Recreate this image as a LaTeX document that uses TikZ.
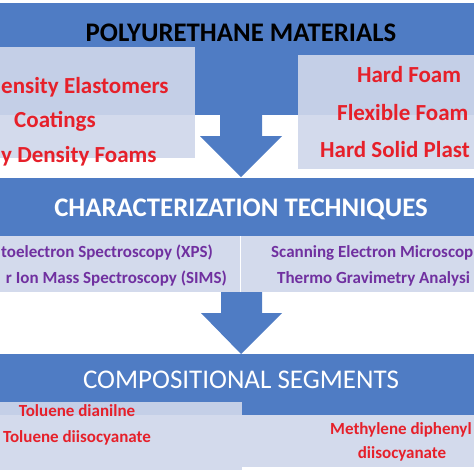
\documentclass[tikz,border=0pt]{standalone}
\usepackage{fontspec}
\setmainfont{Carlito}
\definecolor{bandblue}{HTML}{4F7CC4}
\definecolor{paleblue}{HTML}{CFD7EA}
\definecolor{itemred}{HTML}{E6202A}
\definecolor{itempurple}{HTML}{7030A0}
\tikzset{
  band/.style={fill=bandblue,draw=none},
  panel/.style={fill=paleblue,fill opacity=0.92,draw=none},
  heading/.style={inner sep=0pt,font=\bfseries\fontsize{26.8}{31}\selectfont},
  item/.style={inner sep=0pt,text=itemred,font=\bfseries\fontsize{23}{27}\selectfont},
  method/.style={inner sep=0pt,text=itempurple,font=\bfseries\fontsize{17}{20}\selectfont},
  segment/.style={inner sep=0pt,text=itemred,font=\bfseries\fontsize{17}{20}\selectfont}
}

\begin{document}
\begin{tikzpicture}[x=1pt,y=-1pt]
    \useasboundingbox (0,0) rectangle (474,474);
    %
    % -- First band: the materials
    \fill[band] (0,3) rectangle (474,115);
    \fill[band] (220,110) -- (262,110) -- (262,136) -- (282,136)
                -- (241,177) -- (200,136) -- (220,136) -- cycle;
    \fill[panel] (0,47) rectangle (195,158);
    \fill[panel] (298,55) rectangle (474,169);
    \node[heading] (materials) at (241,33) {POLYURETHANE MATERIALS};

    % -- Left and right lists of materials
    \node[item,anchor=mid west] (elast)  at (1,91)    {ensity Elastomers};
    \node[item,anchor=mid]      (coat)   at (55,125)  {Coatings};
    \node[item,anchor=mid west] (lowfm)  at (1,160)   {y Density Foams};
    \node[item,anchor=mid]      (hardfm) at (409,80)  {Hard Foam};
    \node[item,anchor=mid west] (flexfm) at (337,118) {Flexible Foam};
    \node[item,anchor=mid west] (solid)  at (320,155) {Hard Solid Plast};

    % -- Second band: the techniques
    \fill[band] (0,178) rectangle (474,236);
    \fill[panel] (0,236) rectangle (240,292);
    \fill[panel] (241,236) rectangle (474,292);
    \fill[band] (221,292) -- (262,292) -- (262,313) -- (282,313)
                -- (241,354) -- (201,313) -- (221,313) -- cycle;
    \node[heading,text=white] (techniques) at (241,209) {CHARACTERIZATION TECHNIQUES};

    \node[method,anchor=mid west] (xps)  at (1,255)   {toelectron Spectroscopy (XPS)};
    \node[method,anchor=mid east] (sims) at (227,281) {r Ion Mass Spectroscopy (SIMS)};
    \node[method,anchor=mid west] (sem)  at (271,255) {Scanning Electron Microscop};
    \node[method,anchor=mid west] (tga)  at (277,281) {Thermo Gravimetry Analysi};

    % -- Third band: the segments
    \fill[band] (0,354) rectangle (474,415);
    \fill[panel] (242,415) rectangle (474,467);
    \fill[panel] (0,402) rectangle (242,470);
    \node[inner sep=0pt,text=white,font=\fontsize{27}{32}\selectfont,anchor=mid]
          (segments) at (241,386) {COMPOSITIONAL SEGMENTS};

    \node[segment,anchor=mid] (tda)  at (77,414)  {Toluene dianilne};
    \node[segment,anchor=mid] (tdi)  at (77,440)  {Toluene diisocyanate};
    \node[segment,anchor=mid west] (mdi)  at (330,432) {Methylene diphenyl};
    \node[segment,anchor=mid] (mdi2) at (402,456) {diisocyanate};
\end{tikzpicture}
\end{document}
